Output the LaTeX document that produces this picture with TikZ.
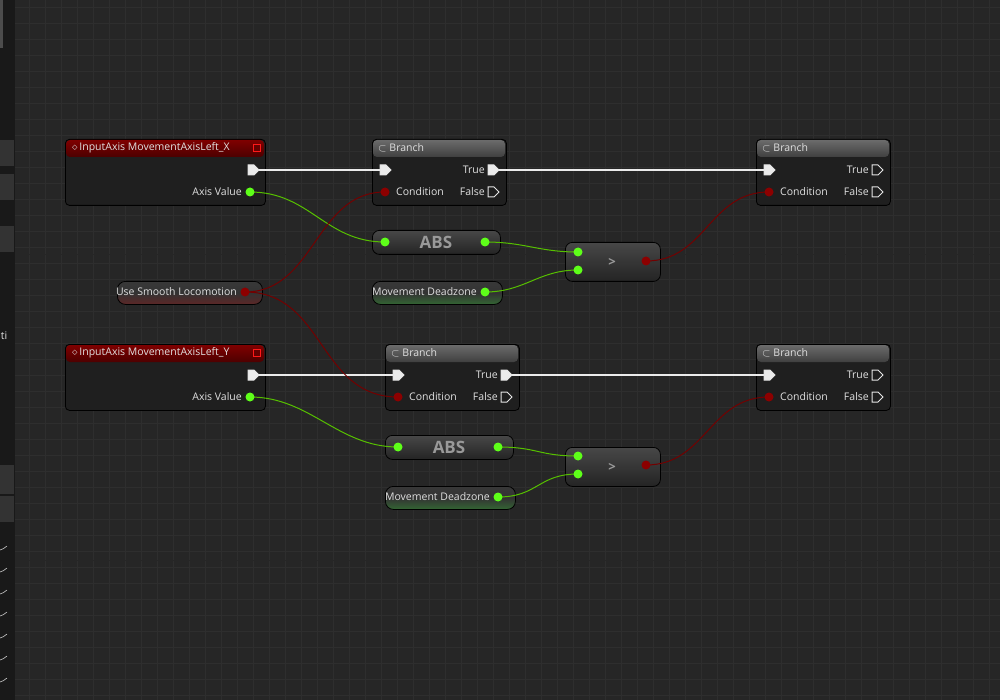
\documentclass[tikz,border=0pt]{standalone}
\usepackage{fontspec}
\setmainfont{Open Sans}
\usetikzlibrary{calc}
\begin{document}
\begin{tikzpicture}[x=1pt,y=-1pt,
  lbl/.style={text=white!88!black,font=\fontsize{10.5}{12}\selectfont,inner sep=0pt},
  body/.style={draw=black,line width=0.8pt,fill=black!88,rounded corners=4pt},
  pure/.style={draw=black,line width=0.8pt,top color=black!72,bottom color=black!86,rounded corners=7pt},
  gpin/.style={circle,fill=green!70!yellow!90!white,minimum size=9pt,inner sep=0pt},
  rpin/.style={circle,fill=red!55!black,minimum size=9pt,inner sep=0pt},
  exw/.style={draw=white!92!black,line width=1.6pt},
  gw/.style={draw=green!55!yellow!75!black,line width=1pt},
  rw/.style={draw=red!45!black,line width=1pt}]
\definecolor{bg}{HTML}{262626}
\definecolor{gl}{HTML}{2E2E2E}
\useasboundingbox (0,0) rectangle (1000,700);
\fill[bg] (0,0) rectangle (1000,700);
\foreach \i in {0,16,...,1000} \draw[gl,line width=0.6pt] (\i+13,0) -- (\i+13,700);
\foreach \j in {0,16,...,700} \draw[gl,line width=0.6pt] (0,\j+7) -- (1000,\j+7);
\foreach \j in {255,560} \draw[black!85,line width=1pt] (0,\j) -- (1000,\j);
% left panel
\fill[black!90] (0,0) rectangle (15,700);
\fill[black!70] (0,0) rectangle (3,48);
\foreach \a/\b in {140/166,174/200,226/252,465/494,496/522} \fill[black!80] (0,\a) rectangle (14,\b);
\node[lbl,anchor=west] (iti) at (-2,336) {iti};
\foreach \j in {548,570,592,614,636,658,680} \draw[white!80!black,line width=0.6pt] (0,\j+2) .. controls (3,\j+1) .. (7,\j-2);

\newcommand{\execpin}[3]{% name, pos, fill
  \coordinate (#1) at #2;
  \path[#3,draw=white!90!black,line width=1pt] ($(#1)+(-5,-5)$) -- ($(#1)+(1,-5)$) -- ($(#1)+(6,0)$) -- ($(#1)+(1,5)$) -- ($(#1)+(-5,5)$) -- cycle;}

% ---------- Input X
\node[body,minimum width=200pt,minimum height=66pt,anchor=north west] (inx) at (65,139) {};
\path[top color=red!50!black,bottom color=red!30!black,rounded corners=4pt] (66,140) -- (264,140) -- (264,157) -- (66,157) -- cycle;
\node[lbl,anchor=west] (inxt) at (72,148) {$\diamond$\,InputAxis MovementAxisLeft\_X};
\node[draw=red!90!white,fill=red!40!black,minimum size=7pt,inner sep=0pt,line width=1pt] (inxs) at (257,148) {};
\node[lbl,anchor=east] (inxal) at (242,192) {Axis Value};

% ---------- Input Y
\node[body,minimum width=200pt,minimum height=66pt,anchor=north west] (iny) at (65,344) {};
\path[top color=red!50!black,bottom color=red!30!black,rounded corners=4pt] (66,345) -- (264,345) -- (264,362) -- (66,362) -- cycle;
\node[lbl,anchor=west] (inyt) at (72,353) {$\diamond$\,InputAxis MovementAxisLeft\_Y};
\node[draw=red!90!white,fill=red!40!black,minimum size=7pt,inner sep=0pt,line width=1pt] (inys) at (257,353) {};
\node[lbl,anchor=east] (inyal) at (242,397) {Axis Value};

% ---------- Branch nodes
\newcommand{\branch}[3]{% name, x, y
  \node[body,minimum width=134pt,minimum height=66pt,anchor=north west] (#1) at (#2,#3) {};
  \path[top color=black!58,bottom color=black!75,rounded corners=4pt] (#2+1,#3+1) -- (#2+133,#3+1) -- (#2+133,#3+18) -- (#2+1,#3+18) -- cycle;
  \node[lbl,anchor=west] (#1t) at (#2+6,#3+9) {$\subset$ Branch};
  \node[lbl,anchor=west] (#1cl) at (#2+24,#3+53) {Condition};
  \node[lbl,anchor=east] (#1tl) at (#2+113,#3+31) {True};
  \node[lbl,anchor=east] (#1fl) at (#2+113,#3+53) {False};}
\branch{bA}{372}{139}
\branch{bB}{756}{139}
\branch{bC}{385}{344}
\branch{bD}{756}{344}

% ---------- pure nodes
\node[pure,minimum width=128pt,minimum height=24pt,anchor=north west] (absA) at (372,230) {};
\node[text=white!60!black,font=\bfseries\fontsize{17}{18}\selectfont] (absAt) at (436,242) {ABS};
\node[pure,minimum width=128pt,minimum height=24pt,anchor=north west] (absB) at (385,435) {};
\node[text=white!60!black,font=\bfseries\fontsize{17}{18}\selectfont] (absBt) at (449,447) {ABS};
\node[pure,minimum width=95pt,minimum height=39pt,anchor=north west] (gA) at (565,242) {};
\node[text=white!60!black,font=\bfseries\fontsize{13}{14}\selectfont] (gAt) at (612,262) {>};
\node[pure,minimum width=95pt,minimum height=39pt,anchor=north west] (gB) at (565,447) {};
\node[text=white!60!black,font=\bfseries\fontsize{13}{14}\selectfont] (gBt) at (612,467) {>};

% ---------- variable nodes
\node[draw=black,line width=0.8pt,rounded corners=8pt,top color=black!78,bottom color=red!25!black!85,middle color=black!80,minimum width=145pt,minimum height=23pt,anchor=north west] (us) at (117,281) {};
\node[lbl,anchor=east] (ust) at (237,292) {Use Smooth Locomotion};
\node[draw=black,line width=0.8pt,rounded corners=8pt,top color=black!78,bottom color=green!25!black!80,middle color=black!80,minimum width=130pt,minimum height=23pt,anchor=north west] (dzA) at (372,281) {};
\node[lbl,anchor=east] (dzAt) at (477,292) {Movement Deadzone};
\node[draw=black,line width=0.8pt,rounded corners=8pt,top color=black!78,bottom color=green!25!black!80,middle color=black!80,minimum width=130pt,minimum height=23pt,anchor=north west] (dzB) at (385,486) {};
\node[lbl,anchor=east] (dzBt) at (490,497) {Movement Deadzone};

% ---------- data pin coordinates
\coordinate (inxa) at (250,192); \coordinate (inya) at (250,397);
\coordinate (bAc) at (385,192); \coordinate (bBc) at (769,192);
\coordinate (bCc) at (398,397); \coordinate (bDc) at (769,397);
\coordinate (absAi) at (385,242); \coordinate (absAo) at (485,242);
\coordinate (absBi) at (398,447); \coordinate (absBo) at (498,447);
\coordinate (gAi1) at (578,252); \coordinate (gAi2) at (578,270); \coordinate (gAo) at (646,261);
\coordinate (gBi1) at (578,456); \coordinate (gBi2) at (578,474); \coordinate (gBo) at (646,465);
\coordinate (uso) at (245,292); \coordinate (dzAo) at (485,292); \coordinate (dzBo) at (498,497);

% ---------- wires
\draw[exw] (253,170) -- (385,170);
\draw[exw] (493,170) -- (769,170);
\draw[exw] (253,375) -- (398,375);
\draw[exw] (506,375) -- (769,375);
\draw[gw] (inxa) .. controls +(60,0) and +(-60,0) .. (absAi);
\draw[gw] (inya) .. controls +(60,0) and +(-60,0) .. (absBi);
\draw[gw] (absAo) .. controls +(40,0) and +(-40,0) .. (gAi1);
\draw[gw] (dzAo) .. controls +(40,0) and +(-40,0) .. (gAi2);
\draw[gw] (absBo) .. controls +(40,0) and +(-40,0) .. (gBi1);
\draw[gw] (dzBo) .. controls +(40,0) and +(-40,0) .. (gBi2);
\draw[rw] (gAo) .. controls +(60,0) and +(-60,0) .. (bBc);
\draw[rw] (gBo) .. controls +(60,0) and +(-60,0) .. (bDc);
\draw[rw] (uso) .. controls +(70,0) and +(-70,0) .. (bAc);
\draw[rw] (uso) .. controls +(80,0) and +(-80,0) .. (bCc);

% ---------- pins on top
\foreach \p in {inxa,inya,absAi,absAo,absBi,absBo,gAi1,gAi2,gBi1,gBi2,dzAo,dzBo}
  \node[gpin] at (\p) {};
\foreach \p in {bAc,bBc,bCc,bDc,gAo,gBo,uso}
  \node[rpin] at (\p) {};
\execpin{inxe}{(253,170)}{fill=white!92!black}
\execpin{inye}{(253,375)}{fill=white!92!black}
\execpin{bAi}{(385,170)}{fill=white!92!black}
\execpin{bAo}{(493,170)}{fill=white!92!black}
\execpin{bAf}{(493,192)}{fill=black!88}
\execpin{bBi}{(769,170)}{fill=white!92!black}
\execpin{bBo}{(877,170)}{fill=black!88}
\execpin{bBf}{(877,192)}{fill=black!88}
\execpin{bCi}{(398,375)}{fill=white!92!black}
\execpin{bCo}{(506,375)}{fill=white!92!black}
\execpin{bCf}{(506,397)}{fill=black!88}
\execpin{bDi}{(769,375)}{fill=white!92!black}
\execpin{bDo}{(877,375)}{fill=black!88}
\execpin{bDf}{(877,397)}{fill=black!88}
\end{tikzpicture}
\end{document}
